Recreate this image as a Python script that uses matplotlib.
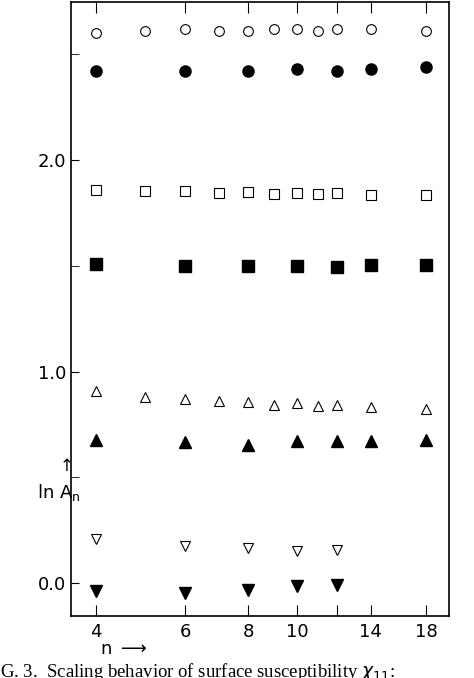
import matplotlib
matplotlib.use("Agg")
import matplotlib.pyplot as plt
from matplotlib.ticker import FixedLocator, NullFormatter, FixedFormatter

# data (ln A_n vs n)
n_full = [4, 5, 6, 7, 8, 9, 10, 11, 12, 14, 18]
n_even = [4, 6, 8, 10, 12, 14, 18]
n_short = [4, 6, 8, 10, 12]

open_circle = [2.60, 2.61, 2.62, 2.61, 2.61, 2.62, 2.62, 2.61, 2.62, 2.62, 2.61]
fill_circle = [2.42, 2.42, 2.42, 2.43, 2.42, 2.43, 2.44]
open_square = [1.86, 1.855, 1.855, 1.845, 1.85, 1.84, 1.845, 1.84, 1.845, 1.835, 1.835]
fill_square = [1.51, 1.50, 1.50, 1.50, 1.495, 1.505, 1.505]
open_tri_up = [0.91, 0.88, 0.87, 0.86, 0.855, 0.84, 0.85, 0.835, 0.84, 0.83, 0.825]
fill_tri_up = [0.675, 0.665, 0.655, 0.67, 0.67, 0.67, 0.675]
open_tri_dn = [0.21, 0.175, 0.165, 0.15, 0.155]
fill_tri_dn = [-0.04, -0.045, -0.035, -0.015, -0.01]

xticks = [4, 6, 8, 10, 12, 14, 18]
xticklabels = ["4", "6", "8", "10", "", "14", "18"]

fig = plt.figure(figsize=(4.74, 6.78), dpi=100)
ax = fig.add_axes([0.150, 0.0914, 0.797, 0.9056])

kw = dict(color="black", linestyle="none")
ax.plot(n_full, open_circle, marker="o", markersize=7, markerfacecolor="white", markeredgewidth=0.8, **kw)
ax.plot(n_even, fill_circle, marker="o", markersize=8, **kw)
ax.plot(n_full, open_square, marker="s", markersize=7, markerfacecolor="white", markeredgewidth=0.8, **kw)
ax.plot(n_even, fill_square, marker="s", markersize=8, **kw)
ax.plot(n_full, open_tri_up, marker="^", markersize=7, markerfacecolor="white", markeredgewidth=0.8, **kw)
ax.plot(n_even, fill_tri_up, marker="^", markersize=8, **kw)
ax.plot(n_short, open_tri_dn, marker="v", markersize=7, markerfacecolor="white", markeredgewidth=0.8, **kw)
ax.plot(n_short, fill_tri_dn, marker="v", markersize=8, **kw)

ax.set_xscale("log")
ax.set_xlim(3.57, 19.98)
ax.set_ylim(-0.156, 2.747)
ax.xaxis.set_major_locator(FixedLocator(xticks))
ax.xaxis.set_major_formatter(FixedFormatter(xticklabels))
ax.xaxis.set_minor_formatter(NullFormatter())
ax.xaxis.set_minor_locator(FixedLocator([]))
ax.set_yticks([0.0, 1.0, 2.0])
ax.set_yticklabels(["0.0", "1.0", "2.0"])
ax.set_yticks([0.5, 1.5, 2.5], minor=True)
ax.tick_params(axis="x", which="major", direction="in", length=8, top=True, labelsize=13, pad=5)
ax.tick_params(axis="y", which="both", direction="in", length=6, labelsize=13)
for s in ax.spines.values():
    s.set_linewidth(1.2)

fig.text(0.135, 0.305, "$\\uparrow$", fontsize=12, ha="center")
fig.text(0.125, 0.265, "ln A$_\\mathrm{n}$", fontsize=13, ha="center")
fig.text(0.21, 0.035, "n $\\longrightarrow$", fontsize=13, ha="left")
fig.text(0.0, 0.002, "G. 3.  Scaling behavior of surface susceptibility $\\chi_{11}$:",
         fontsize=13.5, family="Liberation Serif", ha="left")

fig.savefig("out.png", dpi=100)
